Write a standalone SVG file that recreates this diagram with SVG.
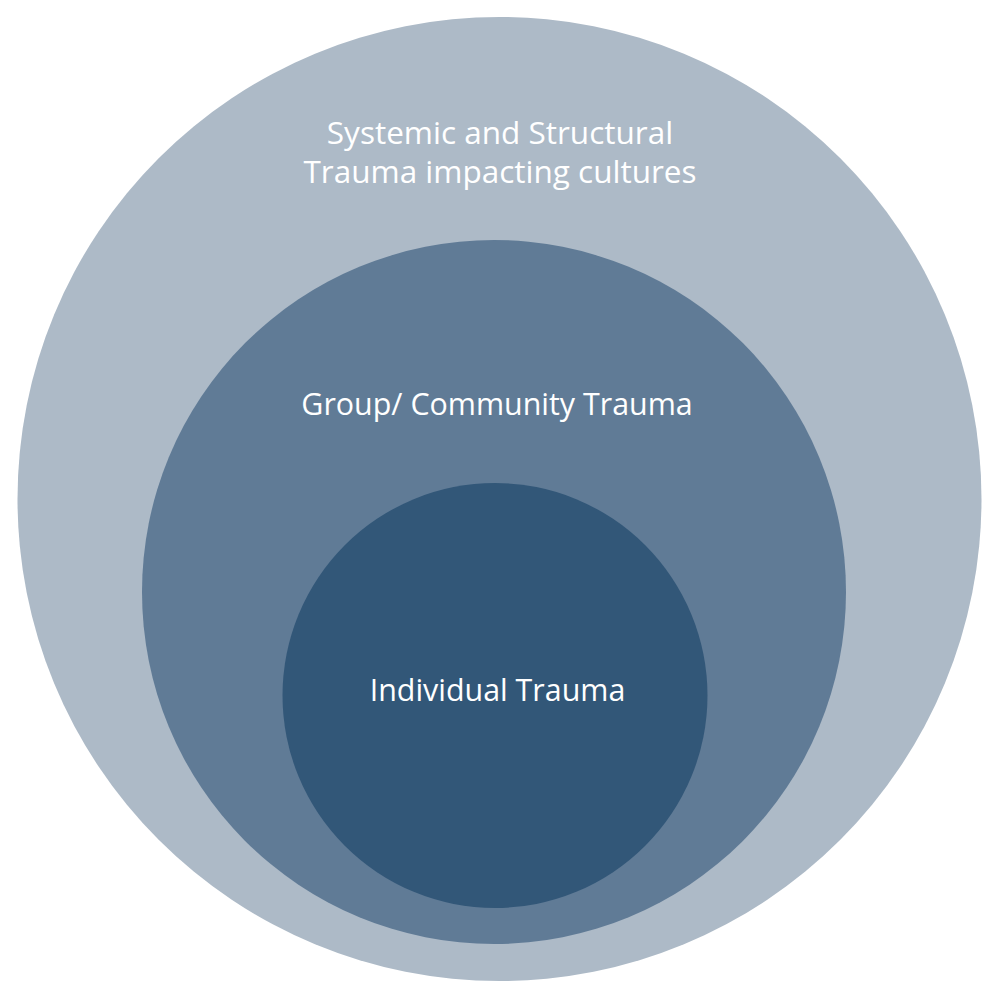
<svg xmlns="http://www.w3.org/2000/svg" width="1000" height="1003" viewBox="0 0 1000 1003">
<style>
text{font-family:"Open Sans","Liberation Sans",sans-serif;fill:#ffffff;text-anchor:middle}
.t1{font-size:31.5px}
.t2{font-size:30.4px}
</style>
<rect width="1000" height="1003" fill="#ffffff"/>
<g id="outer"><circle cx="499.5" cy="499" r="482" fill="#ADBAC7"/>
<text class="t1" x="500" y="144">Systemic and Structural</text>
<text class="t1" x="500" y="183">Trauma impacting cultures</text></g>
<g id="middle"><circle cx="494" cy="592" r="352" fill="#607B96"/>
<text class="t2" x="497" y="415">Group/ Community Trauma</text></g>
<g id="inner"><circle cx="495" cy="695.5" r="212.5" fill="#325778"/>
<text class="t2" x="497.5" y="701">Individual Trauma</text></g>
<g id="connectors"/>
</svg>
